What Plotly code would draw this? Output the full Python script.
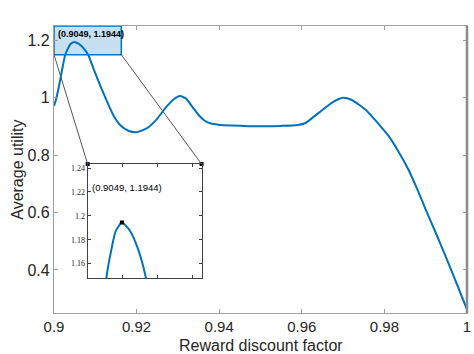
import plotly.graph_objects as go

# Curve values
gamma = [0.9000, 0.9006, 0.9012, 0.9020, 0.9027, 0.9034, 0.9040, 0.9049, 0.9060, 0.9071,
         0.9083, 0.9096, 0.9112, 0.9128, 0.9144, 0.9160, 0.9180, 0.9200, 0.9224, 0.9248,
         0.9272, 0.9290, 0.9305, 0.9320, 0.9335, 0.9350, 0.9365, 0.9380, 0.9398, 0.9430,
         0.9470, 0.9500, 0.9550, 0.9590, 0.9609, 0.9630, 0.9652, 0.9675, 0.9700, 0.9720,
         0.9757, 0.9785, 0.9810, 0.9835, 0.9858, 0.9880, 0.9900, 0.9925, 0.9949, 0.9975,
         1.0000]
utility = [0.971, 1.000, 1.040, 1.100, 1.149, 1.172, 1.187, 1.1944, 1.188, 1.174,
           1.149, 1.100, 1.042, 0.988, 0.938, 0.905, 0.885, 0.880, 0.893, 0.924,
           0.968, 0.995, 1.006, 0.997, 0.968, 0.940, 0.920, 0.910, 0.906, 0.903,
           0.901, 0.901, 0.902, 0.905, 0.912, 0.935, 0.960, 0.985, 1.000, 0.993,
           0.955, 0.910, 0.867, 0.810, 0.750, 0.680, 0.610, 0.527, 0.445, 0.352,
           0.262]

peak_x, peak_y = 0.9049, 1.1944

x_ticks = [0.9, 0.92, 0.94, 0.96, 0.98, 1.0]
x_ticktext = ["0.9", "0.92", "0.94", "0.96", "0.98", "1"]
y_ticks = [0.4, 0.6, 0.8, 1.0, 1.2]
y_ticktext = ["0.4", "0.6", "0.8", "1", "1.2"]

inset_xticks = [0.905, 0.91, 0.915]
inset_yticks = [1.16, 1.18, 1.20, 1.22, 1.24]
inset_yticktext = ["1.16", "1.18", "1.2", "1.22", "1.24"]

# zoom rectangle and inset ranges
zoom_x = [0.9, 0.9163]
zoom_y = [1.15, 1.25]
inset_xr = [0.9, 0.9163]
inset_yr = [1.148, 1.2434]

main_xr = [0.9, 1.0]
main_yr = [0.25, 1.25]
inset_dx = [0.0815, 0.3573]
inset_dy = [0.122, 0.519]

BLUE = "#0072BD"
AX = "#a0a0a0"
TXT = "#262626"

fig = go.Figure()
fig.add_trace(go.Scatter(x=gamma, y=utility, mode="lines",
                         line=dict(color=BLUE, width=2, shape="spline", smoothing=0.6),
                         xaxis="x", yaxis="y", hoverinfo="skip"))
fig.add_trace(go.Scatter(x=gamma, y=utility, mode="lines",
                         line=dict(color=BLUE, width=2, shape="spline", smoothing=0.6),
                         xaxis="x2", yaxis="y2", hoverinfo="skip"))
fig.add_trace(go.Scatter(x=[peak_x], y=[peak_y], mode="markers",
                         marker=dict(color="black", size=4, symbol="square"),
                         xaxis="x2", yaxis="y2", hoverinfo="skip"))

# inset corner positions in main data coordinates
def frac_to_data(fx, fy):
    return (main_xr[0] + fx * (main_xr[1] - main_xr[0]),
            main_yr[0] + fy * (main_yr[1] - main_yr[0]))

tl = frac_to_data(inset_dx[0], inset_dy[1])
tr = frac_to_data(inset_dx[1], inset_dy[1])

fig.add_shape(type="rect", xref="x", yref="y", x0=zoom_x[0], x1=zoom_x[1],
              y0=zoom_y[0], y1=zoom_y[1],
              fillcolor="rgba(0,114,189,0.22)", line=dict(color=BLUE, width=1.5), layer="below")
fig.add_shape(type="line", xref="x", yref="y", x0=zoom_x[0], y0=zoom_y[0], x1=tl[0], y1=tl[1],
              line=dict(color="#555555", width=1))
fig.add_shape(type="line", xref="x", yref="y", x0=zoom_x[1], y0=zoom_y[0], x1=tr[0], y1=tr[1],
              line=dict(color="#555555", width=1))
fig.add_trace(go.Scatter(x=[tl[0], tr[0]], y=[tl[1], tr[1]], mode="markers",
                         marker=dict(color="black", size=4, symbol="square"),
                         xaxis="x", yaxis="y", hoverinfo="skip", cliponaxis=False))

label = f"({peak_x}, {peak_y})"
fig.add_annotation(x=zoom_x[0], y=zoom_y[1], xref="x", yref="y", text=f"<b>{label}</b>",
                   showarrow=False, xanchor="left", yanchor="top", xshift=2, yshift=-1,
                   font=dict(family="Arial, Liberation Sans", size=9, color="black"))
fig.add_annotation(x=inset_xr[0], y=1.224, xref="x2", yref="y2", text=label,
                   showarrow=False, xanchor="left", yanchor="middle", xshift=2,
                   font=dict(family="Arial, Liberation Sans", size=9.5, color="black"))

fig.add_annotation(x=0.5, y=-0.112, xref="paper", yref="paper", text="Reward discount factor",
                   showarrow=False, xanchor="center", yanchor="middle",
                   font=dict(family="Arial, Liberation Sans", size=16, color=TXT))
fig.add_annotation(x=-0.089, y=0.5, xref="paper", yref="paper", text="Average utility",
                   showarrow=False, xanchor="center", yanchor="middle", textangle=-90,
                   font=dict(family="Arial, Liberation Sans", size=16, color=TXT))

# right border (darker/thicker in the reference)
fig.add_shape(type="line", xref="paper", yref="paper", x0=1, x1=1, y0=0, y1=1,
              line=dict(color="#8c8c8c", width=2.5))

fig.update_layout(
    width=474, height=354,
    margin=dict(l=54, r=3, t=26, b=41),
    paper_bgcolor="white", plot_bgcolor="rgba(0,0,0,0)",
    showlegend=False,
    xaxis=dict(range=main_xr, tickvals=x_ticks, ticktext=x_ticktext, ticks="inside",
               ticklen=4, tickcolor=AX, showline=True, linecolor=AX, linewidth=1.2,
               mirror="ticks", showgrid=False, zeroline=False, ticklabeloverflow="allow",
               tickfont=dict(family="Arial, Liberation Sans", size=15, color=TXT)),
    yaxis=dict(range=main_yr, tickvals=y_ticks, ticktext=y_ticktext, ticks="inside",
               ticklen=4, tickcolor=AX, showline=True, linecolor=AX, linewidth=1.2,
               mirror="ticks", showgrid=False, zeroline=False,
               tickfont=dict(family="Arial, Liberation Sans", size=16, color=TXT)),
    xaxis2=dict(domain=inset_dx, anchor="y2", range=inset_xr, tickvals=inset_xticks,
                showticklabels=False, ticks="inside", ticklen=3, tickcolor="#404040",
                showline=True, linecolor="#404040", linewidth=1, mirror="ticks",
                showgrid=False, zeroline=False),
    yaxis2=dict(domain=inset_dy, anchor="x2", range=inset_yr, tickvals=inset_yticks,
                ticktext=inset_yticktext, ticks="inside", ticklen=3, tickcolor="#404040",
                showline=True, linecolor="#404040", linewidth=1, mirror="ticks",
                showgrid=False, zeroline=False,
                tickfont=dict(family="Liberation Serif, Times New Roman", size=8, color=TXT)),
)

fig.write_html("out.html")
